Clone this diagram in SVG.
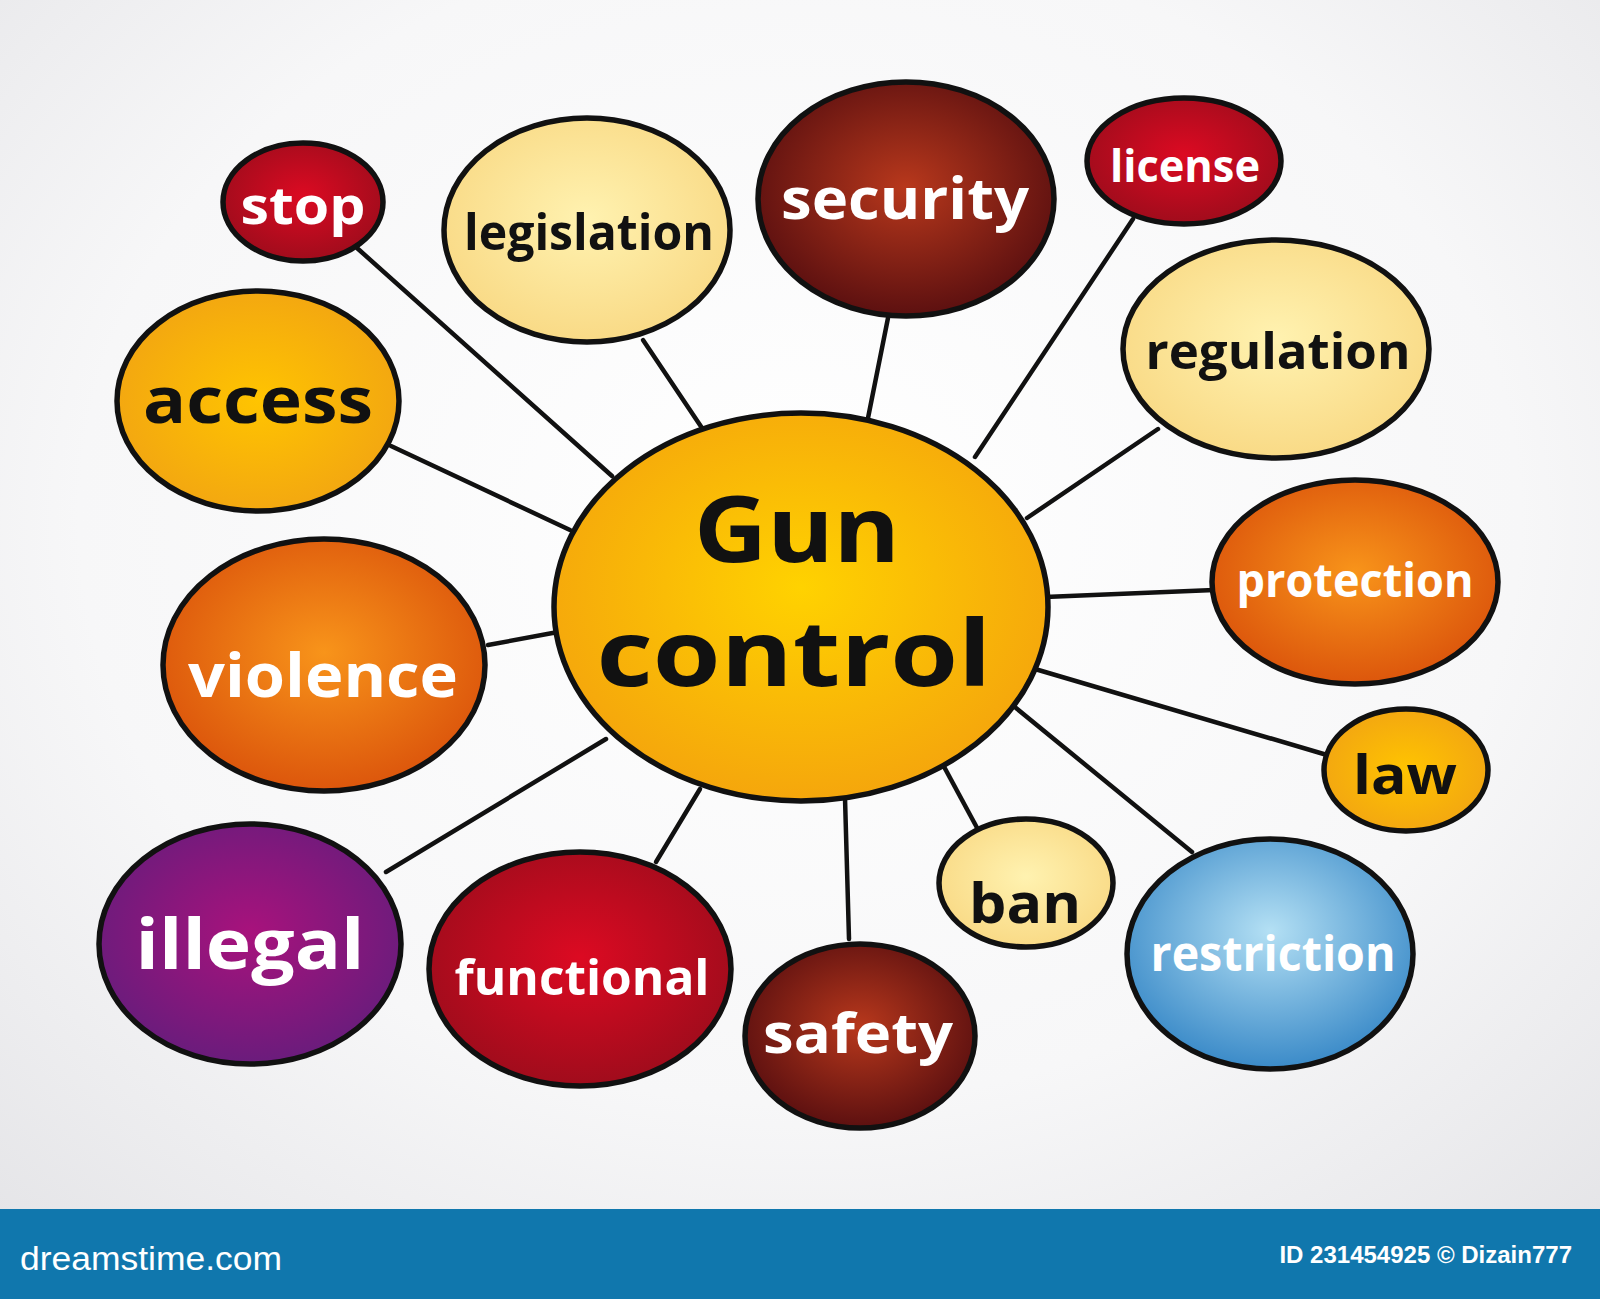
<svg xmlns="http://www.w3.org/2000/svg" width="1600" height="1299" viewBox="0 0 1600 1299">
<defs>
<radialGradient id="bg" cx="50%" cy="40%" r="75%"><stop offset="0" stop-color="#ffffff"/><stop offset="0.6" stop-color="#f7f7f8"/><stop offset="1" stop-color="#e4e4e7"/></radialGradient>
<radialGradient id="gCenter" cx="50%" cy="45%" r="55%"><stop offset="0" stop-color="#ffd200"/><stop offset="1" stop-color="#f5a60c"/></radialGradient>
<radialGradient id="gPale" cx="50%" cy="45%" r="55%"><stop offset="0" stop-color="#fff2b0"/><stop offset="1" stop-color="#f9da86"/></radialGradient>
<radialGradient id="gRed" cx="50%" cy="45%" r="55%"><stop offset="0" stop-color="#dc0a22"/><stop offset="1" stop-color="#a00c1c"/></radialGradient>
<radialGradient id="gMaroon" cx="50%" cy="45%" r="55%"><stop offset="0" stop-color="#b8381c"/><stop offset="1" stop-color="#5c1010"/></radialGradient>
<radialGradient id="gYellow" cx="50%" cy="50%" r="55%"><stop offset="0" stop-color="#ffc400"/><stop offset="1" stop-color="#f2a512"/></radialGradient>
<radialGradient id="gOrange" cx="50%" cy="45%" r="55%"><stop offset="0" stop-color="#f8941a"/><stop offset="1" stop-color="#dc560c"/></radialGradient>
<radialGradient id="gPurple" cx="50%" cy="45%" r="55%"><stop offset="0" stop-color="#a8127c"/><stop offset="1" stop-color="#6a1c7c"/></radialGradient>
<radialGradient id="gBlue" cx="50%" cy="40%" r="60%"><stop offset="0" stop-color="#b4e0f4"/><stop offset="1" stop-color="#3a8ac8"/></radialGradient>
</defs>
<style>
.n{stroke:#111;stroke-width:5.5}
.c{stroke:#111;stroke-width:4.5;stroke-linecap:round;fill:none}
.t{font-family:"Open Sans","DejaVu Sans",sans-serif;font-weight:700;text-anchor:middle}
.w{fill:#ffffff}
.k{fill:#111111}
.f{font-family:"Liberation Sans","DejaVu Sans",sans-serif;fill:#ffffff}
</style>
<rect x="0" y="0" width="1600" height="1299" fill="url(#bg)"/>
<g id="connectors">
<line class="c" x1="357" y1="248" x2="612" y2="476"/>
<line class="c" x1="643" y1="340" x2="702" y2="428"/>
<line class="c" x1="888" y1="318" x2="868" y2="418"/>
<line class="c" x1="1133" y1="219" x2="975" y2="457"/>
<line class="c" x1="1158" y1="429" x2="1027" y2="518"/>
<line class="c" x1="391" y1="446" x2="570" y2="530"/>
<line class="c" x1="1214" y1="590" x2="1045" y2="597"/>
<line class="c" x1="488" y1="645" x2="558" y2="632"/>
<line class="c" x1="1327" y1="755" x2="1035" y2="669"/>
<line class="c" x1="386" y1="872" x2="606" y2="739"/>
<line class="c" x1="656" y1="862" x2="700" y2="789"/>
<line class="c" x1="982" y1="837" x2="942" y2="763"/>
<line class="c" x1="849" y1="939" x2="845" y2="798"/>
<line class="c" x1="1192" y1="852" x2="1016" y2="708"/>
</g>
<g id="center"><ellipse class="n" cx="801" cy="607" rx="247" ry="194" fill="url(#gCenter)"/>
<text class="t k" x="797" y="562" font-size="92" textLength="206" lengthAdjust="spacingAndGlyphs">Gun</text>
<text class="t k" x="794" y="686" font-size="92" textLength="395" lengthAdjust="spacingAndGlyphs">control</text></g>
<g id="stop"><ellipse class="n" cx="303" cy="202" rx="80" ry="59" fill="url(#gRed)"/>
<text class="t w" x="303" y="224" font-size="52" textLength="125" lengthAdjust="spacingAndGlyphs">stop</text></g>
<g id="legislation"><ellipse class="n" cx="587" cy="230" rx="143" ry="112" fill="url(#gPale)"/>
<text class="t k" x="589" y="250" font-size="50" textLength="250" lengthAdjust="spacingAndGlyphs">legislation</text></g>
<g id="security"><ellipse class="n" cx="906" cy="199" rx="148" ry="117" fill="url(#gMaroon)"/>
<text class="t w" x="905" y="219" font-size="58" textLength="248" lengthAdjust="spacingAndGlyphs">security</text></g>
<g id="license"><ellipse class="n" cx="1184" cy="161" rx="97" ry="63" fill="url(#gRed)"/>
<text class="t w" x="1185" y="182" font-size="44" textLength="150" lengthAdjust="spacingAndGlyphs">license</text></g>
<g id="regulation"><ellipse class="n" cx="1276" cy="349" rx="153" ry="109" fill="url(#gPale)"/>
<text class="t k" x="1278" y="369" font-size="50" textLength="265" lengthAdjust="spacingAndGlyphs">regulation</text></g>
<g id="access"><ellipse class="n" cx="258" cy="401" rx="141" ry="110" fill="url(#gYellow)"/>
<text class="t k" x="258" y="423" font-size="64" textLength="230" lengthAdjust="spacingAndGlyphs">access</text></g>
<g id="protection"><ellipse class="n" cx="1355" cy="582" rx="143" ry="102" fill="url(#gOrange)"/>
<text class="t w" x="1355" y="597" font-size="46" textLength="237" lengthAdjust="spacingAndGlyphs">protection</text></g>
<g id="violence"><ellipse class="n" cx="324" cy="665" rx="161" ry="126" fill="url(#gOrange)"/>
<text class="t w" x="323" y="697" font-size="60" textLength="270" lengthAdjust="spacingAndGlyphs">violence</text></g>
<g id="law"><ellipse class="n" cx="1406" cy="770" rx="82" ry="61" fill="url(#gYellow)"/>
<text class="t k" x="1405" y="794" font-size="54" textLength="104" lengthAdjust="spacingAndGlyphs">law</text></g>
<g id="illegal"><ellipse class="n" cx="250" cy="944" rx="151" ry="120" fill="url(#gPurple)"/>
<text class="t w" x="250" y="969" font-size="70" textLength="229" lengthAdjust="spacingAndGlyphs">illegal</text></g>
<g id="functional"><ellipse class="n" cx="580" cy="969" rx="151" ry="117" fill="url(#gRed)"/>
<text class="t w" x="582" y="995" font-size="48" textLength="255" lengthAdjust="spacingAndGlyphs">functional</text></g>
<g id="ban"><ellipse class="n" cx="1026" cy="883" rx="87" ry="64" fill="url(#gPale)"/>
<text class="t k" x="1025" y="923" font-size="56" textLength="112" lengthAdjust="spacingAndGlyphs">ban</text></g>
<g id="safety"><ellipse class="n" cx="860" cy="1036" rx="115" ry="92" fill="url(#gMaroon)"/>
<text class="t w" x="858" y="1053" font-size="56" textLength="190" lengthAdjust="spacingAndGlyphs">safety</text></g>
<g id="restriction"><ellipse class="n" cx="1270" cy="954" rx="143" ry="115" fill="url(#gBlue)"/>
<text class="t w" x="1273" y="971" font-size="48" textLength="245" lengthAdjust="spacingAndGlyphs">restriction</text></g>
<g id="footer">
<rect x="0" y="1209" width="1600" height="90" fill="#1077ad"/>
<text class="f" x="20" y="1270" font-size="34" textLength="262" lengthAdjust="spacingAndGlyphs">dreamstime.com</text>
<text class="f" x="1572" y="1263" font-size="24" font-weight="700" text-anchor="end">ID 231454925 © Dizain777</text>
</g>
</svg>
